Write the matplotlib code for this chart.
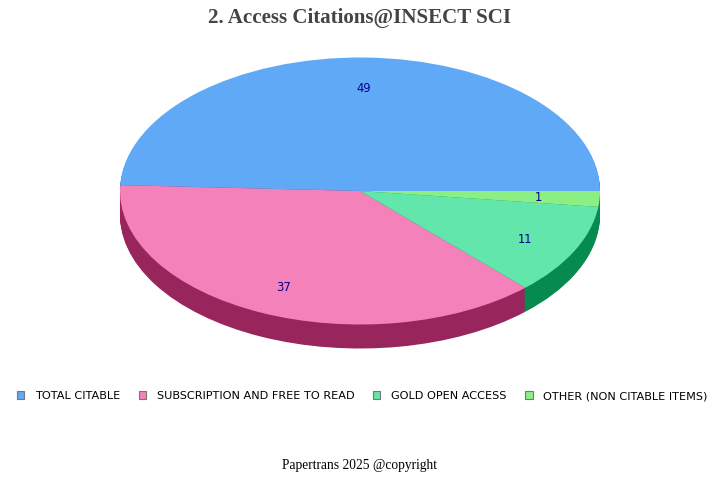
import numpy as np
import matplotlib
matplotlib.use("Agg")
import matplotlib.pyplot as plt
from matplotlib.patches import Patch

categories = ["TOTAL CITABLE", "SUBSCRIPTION AND FREE TO READ", "GOLD OPEN ACCESS", "OTHER (NON CITABLE ITEMS)"]
shares = [49.3, 37.8, 11.0, 1.9]
slice_labels = ["49", "37", "11", "1"]
top_colors = ["#60a9f6", "#f481b9", "#62e6ac", "#8bef84"]
side_colors = ["#0b5fb5", "#99255d", "#078a50", "#078a50"]

W, H = 720, 480
cy = 191       # pie centre, px from top
ry = 133.5     # vertical radius in px
depth = 24

fig = plt.figure(figsize=(W/100, H/100), dpi=100)
ax = fig.add_axes([0, 0, 1, 1])

# stack of darker pies makes the 3d rim
for d in np.arange(depth, 0, -1):
    ax.pie(shares, colors=side_colors, startangle=0, center=(0, -d/ry),
           wedgeprops=dict(linewidth=0))

wedges, texts, autotexts = ax.pie(shares, colors=top_colors, startangle=0,
                                  autopct="%d", pctdistance=0.77,
                                  wedgeprops=dict(linewidth=0))
for t, s in zip(autotexts, slice_labels):
    t.set_text(s)
    t.set_color("#00008b")
    t.set_fontsize(8.3)
# small nudges, labels are not quite on the same radius in the original
autotexts[1].set_y(autotexts[1].get_position()[1] - 3/ry)
autotexts[2].set_y(autotexts[2].get_position()[1] - 2/ry)
autotexts[3].set_x(autotexts[3].get_position()[0] - 6/240)

# the pie is squashed, not round
ax.set_aspect("auto")
ax.set_xlim(-1.5, 1.5)
ax.set_ylim(-(H-cy)/ry, cy/ry)
ax.axis("off")

fig.text(0.5, 1-18/H, "2. Access Citations@INSECT SCI", ha="center", va="center",
         family="Liberation Serif", fontweight="bold", fontsize=15.1, color="#444444")
fig.text(0.5, 1-466/H, "Papertrans 2025 @copyright", ha="center", va="center",
         family="Liberation Serif", fontsize=9.75, color="black")

handles = [Patch(facecolor=c, edgecolor="#777777", linewidth=0.8) for c in top_colors]
fig.legend(handles, categories, loc="center", bbox_to_anchor=(0.503, 1-396/H), ncol=4,
           frameon=False, fontsize=8.15, handlelength=0.65, handleheight=0.75,
           handletextpad=0.95, columnspacing=1.65, borderpad=0, borderaxespad=0)

fig.savefig("out.png", dpi=100)
